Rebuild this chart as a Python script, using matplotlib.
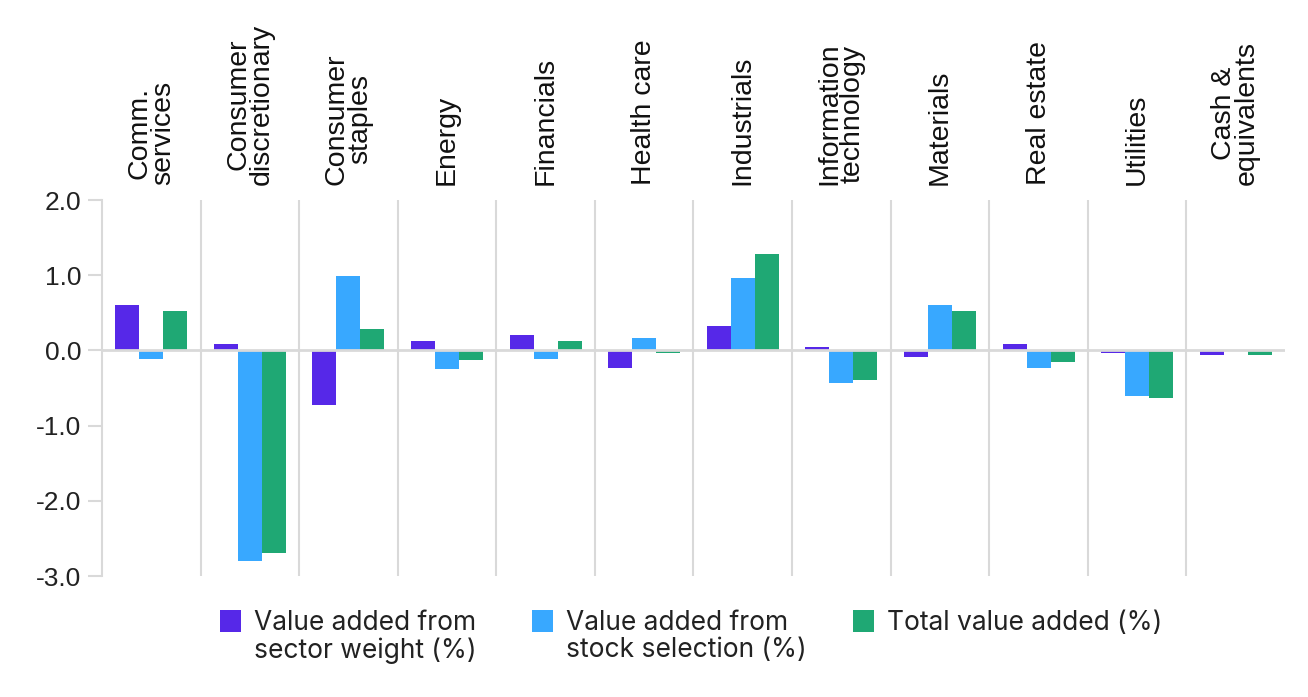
import matplotlib
matplotlib.use('Agg')
import matplotlib.pyplot as plt
from matplotlib.patches import Rectangle
from matplotlib.transforms import blended_transform_factory
import numpy as np

sectors = ['Comm.\nservices', 'Consumer\ndiscretionary', 'Consumer\nstaples', 'Energy',
           'Financials', 'Health care', 'Industrials', 'Information\ntechnology',
           'Materials', 'Real estate', 'Utilities', 'Cash &\nequivalents']
sector_weight = [0.61, 0.09, -0.72, 0.12, 0.21, -0.23, 0.32, 0.04, -0.09, 0.08, -0.04, -0.06]
stock_selection = [-0.11, -2.80, 0.99, -0.25, -0.12, 0.17, 0.96, -0.44, 0.61, -0.23, -0.60, 0.00]
total_value = [0.52, -2.70, 0.28, -0.13, 0.12, -0.04, 1.28, -0.40, 0.53, -0.15, -0.63, -0.06]
series_labels = ['Value added from\nsector weight (%)', 'Value added from\nstock selection (%)',
                 'Total value added (%)']
colors = ['#5628e8', '#38a8ff', '#1fa874']
yticks = [-3.0, -2.0, -1.0, 0.0, 1.0, 2.0]

plt.rcParams['axes.unicode_minus'] = False
grid_col = '#d9d9d9'

fig = plt.figure(figsize=(13.08, 6.97), dpi=100)
ax = fig.add_axes([102 / 1308, 1 - 576 / 697, (1285 - 102) / 1308, (576 - 200) / 697])

x = np.arange(len(sectors))
w = 0.2435
for k, vals in enumerate([sector_weight, stock_selection, total_value]):
    ax.bar(x + (k - 1) * w, vals, width=w, color=colors[k], zorder=2)

ax.axhline(0, color=grid_col, lw=2, zorder=3)
for b in x[:-1] + 0.5:
    ax.axvline(b, color=grid_col, lw=1.5, zorder=1)

ax.set_xlim(-0.5, len(sectors) - 0.5)
ax.set_ylim(-3.0, 2.0)
ax.set_yticks(yticks)
ax.set_yticklabels([f'{t:.1f}' for t in yticks], fontsize=19, family='Liberation Sans',
                   color='#222222')
ax.tick_params(axis='y', length=10, width=1.5, color=grid_col, pad=5)
ax.set_xticks([])
for s in ['top', 'right', 'bottom']:
    ax.spines[s].set_visible(False)
ax.spines['left'].set_color(grid_col)
ax.spines['left'].set_linewidth(1.5)

trans = blended_transform_factory(ax.transData, ax.transAxes)
for i, name in enumerate(sectors):
    ax.text(i, 1.04, name, transform=trans, rotation=90, ha='center', va='bottom',
            fontsize=20.5, family='Liberation Sans', linespacing=0.85, color='#111111')

# legend drawn by hand so the swatch sits on the first text line
leg_x = [220, 532, 853]
for k in range(3):
    fig.add_artist(Rectangle((leg_x[k] / 1308, 1 - 632 / 697), 21 / 1308, 22 / 697,
                             transform=fig.transFigure, color=colors[k], lw=0))
    fig.text((leg_x[k] + 34) / 1308, 1 - 610 / 697, series_labels[k], ha='left', va='top',
             fontsize=19, family='Inter', linespacing=1.05, color='#222222')

fig.savefig('out.png', dpi=100)
